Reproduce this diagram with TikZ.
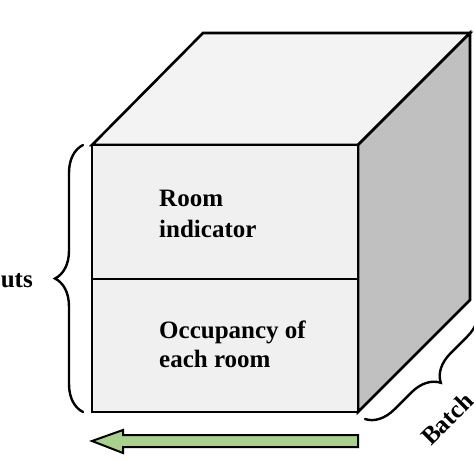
\documentclass[tikz,border=0pt]{standalone}
\usepackage{fontspec}
\setmainfont{Liberation Serif}
\usetikzlibrary{decorations.pathreplacing}
\definecolor{frontc}{HTML}{F0F0F0}
\definecolor{topc}{HTML}{F3F3F3}
\definecolor{sidec}{HTML}{C0C0C0}
\definecolor{arrowc}{HTML}{A9D18E}
\tikzset{
  face/.style={draw=black, line width=2.6pt, line join=miter},
  lbl/.style={inner sep=0pt, font=\fontsize{25}{30}\selectfont\bfseries},
  bracestyle/.style={draw=black, line width=2.4pt, line cap=round,
     decorate, decoration={brace, amplitude=28pt}},
  arrowshape/.style={draw=black, fill=arrowc, line width=2pt, line join=miter}
}
\begin{document}
\begin{tikzpicture}[x=1pt,y=-1pt]
\useasboundingbox (0,0) rectangle (474,474);
\clip (0,0) rectangle (474,474);
\fill[white] (0,0) rectangle (474,474);
% cube corners
\coordinate (fa) at (92,145);
\coordinate (fb) at (358,145);
\coordinate (fc) at (358,412);
\coordinate (fd) at (92,412);
\coordinate (fm1) at (92,279);
\coordinate (fm2) at (358,279);
\coordinate (ba) at (203,33);
\coordinate (bb) at (470,33);
\coordinate (bc) at (470,300);
% faces
\path[face, fill=topc] (fa) -- (ba) -- (bb) -- (fb) -- cycle;
\path[face, fill=sidec] (fb) -- (bb) -- (bc) -- (fc) -- cycle;
\path[face, fill=frontc] (fa) -- (fb) -- (fc) -- (fd) -- cycle;
\draw[face] (fm1) -- (fm2);
% labels
\node[lbl, anchor=base west] (room1) at (159,206) {Room};
\node[lbl, anchor=base west] (room2) at (159,237) {indicator};
\node[lbl, anchor=base west] (occ1) at (159,338) {Occupancy of};
\node[lbl, anchor=base west] (occ2) at (159,367) {each room};
\node[lbl, anchor=base east] (inputs) at (33,287) {Inputs};
\node[lbl, anchor=base west, rotate=45] (batch) at (431,447) {Batch};
% braces
\coordinate (lb1) at (83,412);
\coordinate (lb2) at (83,145);
\draw[bracestyle] (lb1) -- (lb2);
\coordinate (bb1) at (477,307);
\coordinate (bb2) at (365,419);
\draw[bracestyle] (bb1) -- (bb2);
% arrow
\coordinate (a1) at (358,435);
\coordinate (a2) at (123,435);
\coordinate (a3) at (123,430);
\coordinate (a4) at (92,441);
\coordinate (a5) at (123,453);
\coordinate (a6) at (123,447);
\coordinate (a7) at (358,447);
\path[arrowshape] (a1) -- (a2) -- (a3) -- (a4) -- (a5) -- (a6) -- (a7) -- cycle;
\end{tikzpicture}
\end{document}
